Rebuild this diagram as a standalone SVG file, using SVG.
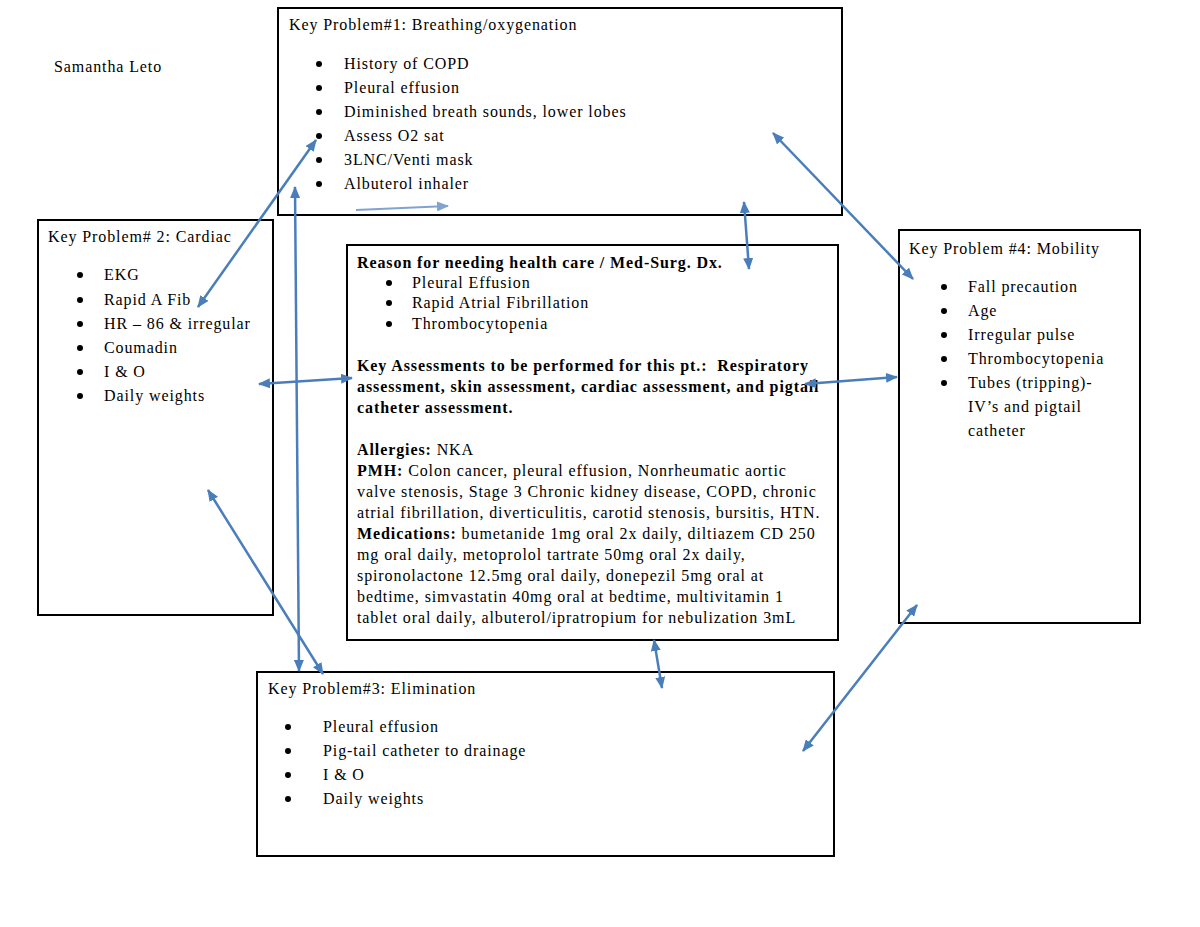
<svg xmlns="http://www.w3.org/2000/svg" width="1200" height="927" viewBox="0 0 1200 927">
<defs>
<marker id="ah" viewBox="0 0 12 10" refX="11" refY="5" markerWidth="12" markerHeight="10" markerUnits="userSpaceOnUse" orient="auto-start-reverse">
<path d="M0,0 L12,5 L0,10 z" fill="#4a7ebb"/>
</marker>
</defs>
<style>
text{font-family:"Liberation Serif","Times New Roman",serif;font-size:16px;fill:#000;letter-spacing:0.9px;white-space:pre}
.b{font-weight:bold}
.box{fill:#fff;stroke:#000;stroke-width:2}
.dot{fill:#000}
.c{fill:none;stroke:#4a7ebb;stroke-width:2.5;marker-start:url(#ah);marker-end:url(#ah)}
.c1{fill:none;stroke:#4a7ebb;stroke-width:2;marker-end:url(#ah);opacity:0.7}
</style>
<rect width="1200" height="927" fill="#fff"/>
<text x="54" y="72">Samantha Leto</text>

<g id="kp1">
<rect class="box" x="278" y="8" width="564" height="207"/>
<text x="289" y="30">Key Problem#1: Breathing/oxygenation</text>
<circle class="dot" cx="319" cy="64" r="3"/><text x="344" y="69">History of COPD</text>
<circle class="dot" cx="319" cy="88" r="3"/><text x="344" y="93">Pleural effusion</text>
<circle class="dot" cx="319" cy="112" r="3"/><text x="344" y="117">Diminished breath sounds, lower lobes</text>
<circle class="dot" cx="319" cy="136" r="3"/><text x="344" y="141">Assess O2 sat</text>
<circle class="dot" cx="319" cy="160" r="3"/><text x="344" y="165">3LNC/Venti mask</text>
<circle class="dot" cx="319" cy="184" r="3"/><text x="344" y="189">Albuterol inhaler</text>
</g>

<g id="kp2">
<rect class="box" x="38" y="220" width="235" height="395"/>
<text x="48" y="242">Key Problem# 2: Cardiac</text>
<circle class="dot" cx="80" cy="275" r="3"/><text x="104" y="280">EKG</text>
<circle class="dot" cx="80" cy="300" r="3"/><text x="104" y="305">Rapid A Fib</text>
<circle class="dot" cx="80" cy="324" r="3"/><text x="104" y="329">HR – 86 &amp; irregular</text>
<circle class="dot" cx="80" cy="348" r="3"/><text x="104" y="353">Coumadin</text>
<circle class="dot" cx="80" cy="372" r="3"/><text x="104" y="377">I &amp; O</text>
<circle class="dot" cx="80" cy="396" r="3"/><text x="104" y="401">Daily weights</text>
</g>

<g id="center">
<rect class="box" x="347" y="245" width="491" height="395"/>
<text class="b" x="357" y="268">Reason for needing health care / Med-Surg. Dx.</text>
<circle class="dot" cx="389" cy="283" r="3"/><text x="412" y="288">Pleural Effusion</text>
<circle class="dot" cx="389" cy="303" r="3"/><text x="412" y="308">Rapid Atrial Fibrillation</text>
<circle class="dot" cx="389" cy="324" r="3"/><text x="412" y="329">Thrombocytopenia</text>
<text class="b" x="357" y="371">Key Assessments to be performed for this pt.:  Respiratory</text>
<text class="b" x="357" y="392">assessment, skin assessment, cardiac assessment, and pigtail</text>
<text class="b" x="357" y="413">catheter assessment.</text>
<text x="357" y="455"><tspan class="b">Allergies:</tspan> NKA</text>
<text x="357" y="476"><tspan class="b">PMH:</tspan> Colon cancer, pleural effusion, Nonrheumatic aortic</text>
<text x="357" y="497">valve stenosis, Stage 3 Chronic kidney disease, COPD, chronic</text>
<text x="357" y="518">atrial fibrillation, diverticulitis, carotid stenosis, bursitis, HTN.</text>
<text x="357" y="539"><tspan class="b">Medications:</tspan> bumetanide 1mg oral 2x daily, diltiazem CD 250</text>
<text x="357" y="560">mg oral daily, metoprolol tartrate 50mg oral 2x daily,</text>
<text x="357" y="581">spironolactone 12.5mg oral daily, donepezil 5mg oral at</text>
<text x="357" y="602">bedtime, simvastatin 40mg oral at bedtime, multivitamin 1</text>
<text x="357" y="623">tablet oral daily, albuterol/ipratropium for nebulization 3mL</text>
</g>

<g id="kp4">
<rect class="box" x="899" y="230" width="241" height="393"/>
<text x="909" y="254">Key Problem #4: Mobility</text>
<circle class="dot" cx="944" cy="287" r="3"/><text x="968" y="292">Fall precaution</text>
<circle class="dot" cx="944" cy="311" r="3"/><text x="968" y="316">Age</text>
<circle class="dot" cx="944" cy="335" r="3"/><text x="968" y="340">Irregular pulse</text>
<circle class="dot" cx="944" cy="359" r="3"/><text x="968" y="364">Thrombocytopenia</text>
<circle class="dot" cx="944" cy="383" r="3"/><text x="968" y="388">Tubes (tripping)-</text>
<text x="968" y="412">IV’s and pigtail</text>
<text x="968" y="436">catheter</text>
</g>

<g id="kp3">
<rect class="box" x="257" y="672" width="577" height="184"/>
<text x="268" y="694">Key Problem#3: Elimination</text>
<circle class="dot" cx="288" cy="727" r="3"/><text x="323" y="732">Pleural effusion</text>
<circle class="dot" cx="288" cy="751" r="3"/><text x="323" y="756">Pig-tail catheter to drainage</text>
<circle class="dot" cx="288" cy="775" r="3"/><text x="323" y="780">I &amp; O</text>
<circle class="dot" cx="288" cy="799" r="3"/><text x="323" y="804">Daily weights</text>
</g>

<g id="connectors">
<line class="c" x1="316" y1="140" x2="198" y2="307"/>
<line class="c" x1="295" y1="187" x2="299" y2="671"/>
<line class="c" x1="208" y1="490" x2="323" y2="674"/>
<line class="c" x1="259" y1="384" x2="352" y2="378"/>
<line class="c1" x1="356" y1="210" x2="448" y2="206"/>
<line class="c" x1="744" y1="202" x2="749" y2="269"/>
<line class="c" x1="773" y1="133" x2="913" y2="279"/>
<line class="c" x1="805" y1="384" x2="897" y2="377"/>
<line class="c" x1="654" y1="640" x2="662" y2="688"/>
<line class="c" x1="917" y1="605" x2="803" y2="751"/>
</g>
</svg>
